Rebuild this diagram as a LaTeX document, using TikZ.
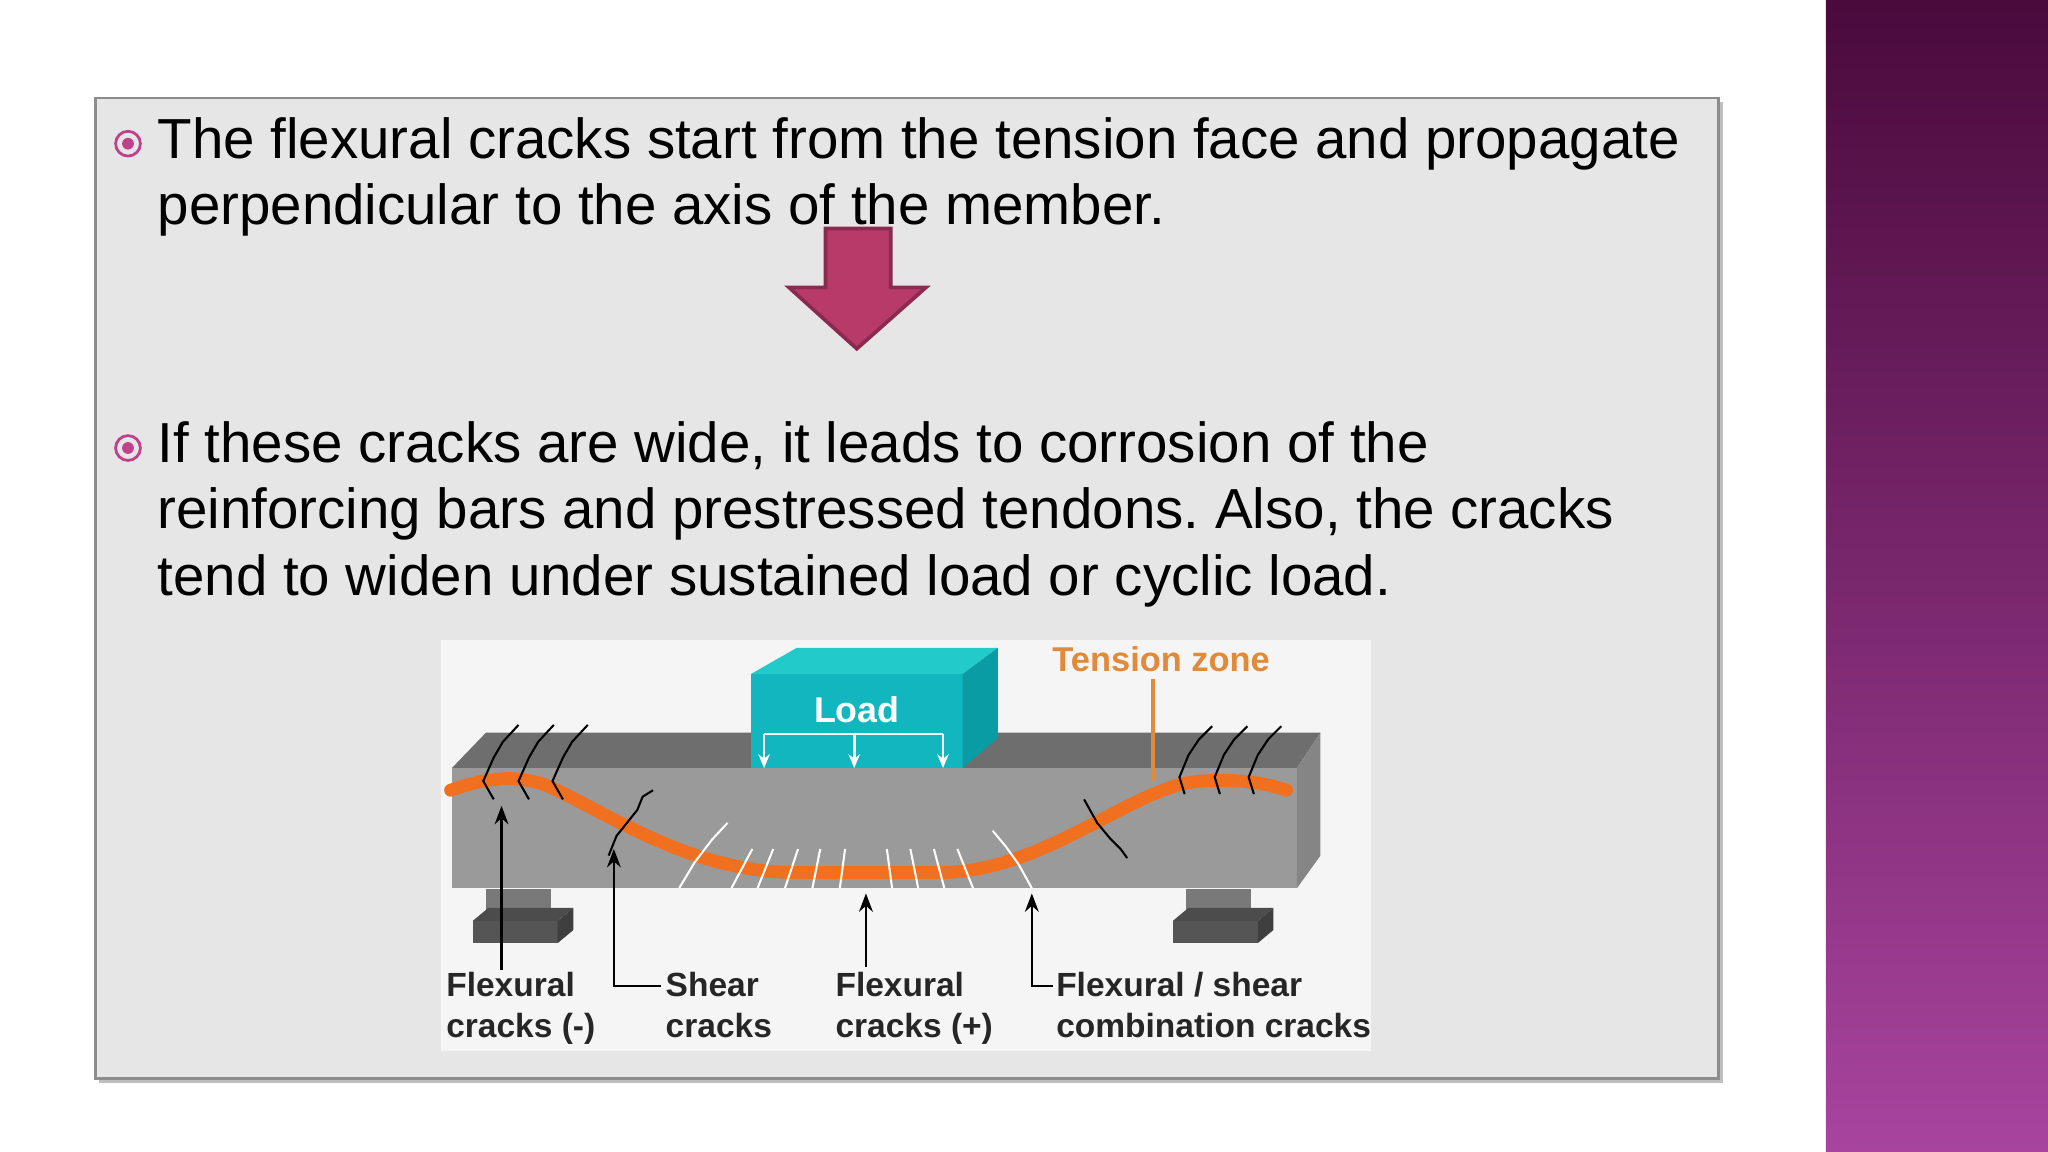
\documentclass[tikz,border=0pt]{standalone}
\usepackage{fontspec}
\setmainfont{Liberation Sans}
\frenchspacing
\usetikzlibrary{arrows.meta}
\definecolor{boxfill}{HTML}{E6E6E6}
\definecolor{bord}{HTML}{8C8C8C}
\definecolor{bul}{HTML}{C0408A}
\definecolor{arr}{HTML}{B83A68}
\definecolor{arrb}{HTML}{8A2A50}
\definecolor{topg}{HTML}{6E6E6E}
\definecolor{frontg}{HTML}{9A9A9A}
\definecolor{sideg}{HTML}{858585}
\definecolor{suppg}{HTML}{6A6A6A}
\definecolor{cyanf}{HTML}{12B6BE}
\definecolor{cyant}{HTML}{22CACA}
\definecolor{cyans}{HTML}{0A9CA4}
\definecolor{oran}{HTML}{F07020}
\definecolor{tz}{HTML}{E08A3A}
\definecolor{pdark}{HTML}{4A0A3C}
\definecolor{plight}{HTML}{A8449E}
\tikzset{
 maintext/.style={anchor=base west,inner sep=0,font=\fontsize{12.3}{14}\selectfont},
 lab/.style={anchor=base west,inner sep=0,font=\fontsize{7.3}{8}\selectfont\bfseries,text=black!85},
 crack/.style={black,line width=0.45pt},
 wcrack/.style={white,line width=0.45pt},
 ptr/.style={black,line width=0.55pt,-{Stealth[length=4pt,width=3pt]}}
}
\begin{document}
\begin{tikzpicture}[x=0.1mm,y=-0.1mm]
\useasboundingbox (0,0) rectangle (1568,882);
\fill[white] (0,0) rectangle (1568,882);
\shade[top color=pdark,bottom color=plight] (1398,0) rectangle (1568,882);
% box
\fill[black!25] (76,78) rectangle (1319,829);
\draw[bord,fill=boxfill,line width=0.6pt] (73,75) rectangle (1316,826);
% bullets
\foreach \yy/\nm in {110/b1,343/b2}{
 \draw[bul,line width=0.6pt] (98,\yy) circle (9.5);
 \fill[bul] (98,\yy) circle (4.5);
}
\node[maintext] (l1) at (120,121) {The flexural cracks start from the tension face and propagate};
\node[maintext] (l2) at (120,172) {perpendicular to the axis of the member.};
\node[maintext] (l3) at (120,354) {If these cracks are wide, it leads to corrosion of the};
\node[maintext] (l4) at (120,405) {reinforcing bars and prestressed tendons. Also, the cracks};
\node[maintext] (l5) at (120,456) {tend to widen under sustained load or cyclic load.};
% arrow
\draw[arrb,fill=arr,line width=0.8pt] (632,175) -- (682,175) -- (682,220) -- (709,220) -- (656,267) -- (604,220) -- (632,220) -- cycle;
% figure
\fill[white!96!black] (338,490) rectangle (1050,805);
% supports
\foreach \sx in {362,898}{
 \fill[suppg!90] (\sx+10,681) rectangle (\sx+60,700);
 \fill[suppg!80!black] (\sx,705) rectangle (\sx+65,722);
 \fill[suppg!120] (\sx,705) -- (\sx+12,695) -- (\sx+77,695) -- (\sx+65,705) -- cycle;
 \fill[suppg!60!black] (\sx+65,705) -- (\sx+77,695) -- (\sx+77,712) -- (\sx+65,722) -- cycle;
}
% beam
\fill[topg] (346,588) -- (372,561) -- (1011,561) -- (993,588) -- cycle;
\fill[frontg] (346,588) rectangle (993,680);
\fill[sideg] (993,588) -- (1011,561) -- (1011,655) -- (993,680) -- cycle;
% load block
\fill[cyant] (575,516) -- (610,496) -- (764,496) -- (737,516) -- cycle;
\fill[cyanf] (575,516) rectangle (737,588);
\fill[cyans] (737,516) -- (764,496) -- (764,565) -- (737,588) -- cycle;
\node[text=white,font=\fontsize{7.8}{8}\selectfont\bfseries,inner sep=0] (load) at (656,543) {Load};
\draw[white,line width=0.6pt] (585,562) -- (722,562);
\foreach \ax in {585,654,722}{\draw[white,line width=0.6pt,-{Stealth[length=3pt,width=2.5pt]}] (\ax,562) -- (\ax,588);}
% orange curve
\draw[oran,line width=2.8pt,line cap=round] (345,605) .. controls (370,596) and (395,592) .. (420,602)
 .. controls (470,625) and (530,668) .. (610,668) -- (720,668)
 .. controls (800,668) and (870,600) .. (920,598) .. controls (950,596) and (970,600) .. (985,605);
% tension zone
\node[text=tz,font=\fontsize{7.5}{8}\selectfont\bfseries,inner sep=0] (tzl) at (889,505) {Tension zone};
\draw[tz,line width=0.8pt] (883,520) -- (883,598);
% black cracks left
\foreach \cx in {0,27,53}{
 \draw[crack] (378+\cx,612) -- (370+\cx,598) -- (378+\cx,580) -- (385+\cx,568) -- (397+\cx,555);
}
\draw[crack] (466,655) -- (472,640) -- (480,630) -- (488,620) -- (492,610) -- (500,605);
% black cracks right
\foreach \cx in {0,27,53}{
 \draw[crack] (907+\cx,608) -- (903+\cx,595) -- (910+\cx,578) -- (918+\cx,566) -- (928+\cx,556);
}
\draw[crack] (830,612) -- (840,630) -- (850,642) -- (858,650) -- (863,657);
% white cracks middle
\draw[wcrack] (520,680) -- (532,660) -- (545,643) -- (557,630);
\foreach \wx/\wa in {560/8,580/6,601/5,622/3,643/2,683/-2,703/-3,723/-4,745/-6}{
 \draw[wcrack] (\wx,680) -- (\wx+\wa,665) -- (\wx+\wa*2,650);
}
\draw[wcrack] (790,680) -- (780,662) -- (770,648) -- (760,636);
% labels
\node[lab] (fn1) at (341,763) {Flexural};
\node[lab] (fn2) at (341,794) {cracks (-)};
\node[lab] (sh1) at (509,763) {Shear};
\node[lab] (sh2) at (509,794) {cracks};
\node[lab] (fp1) at (639,763) {Flexural};
\node[lab] (fp2) at (639,794) {cracks (+)};
\node[lab] (fs1) at (808,763) {Flexural / shear};
\node[lab] (fs2) at (808,794) {combination cracks};
\coordinate (c1) at (384,617);
\coordinate (c2) at (470,650);
\coordinate (c3) at (663,684);
\coordinate (c4) at (790,684);
\draw[ptr] (384,743) -- (c1);
\draw[ptr] (506,755) -- (470,755) -- (c2);
\draw[ptr] (663,740) -- (c3);
\draw[ptr] (806,755) -- (790,755) -- (c4);
\end{tikzpicture}
\end{document}
